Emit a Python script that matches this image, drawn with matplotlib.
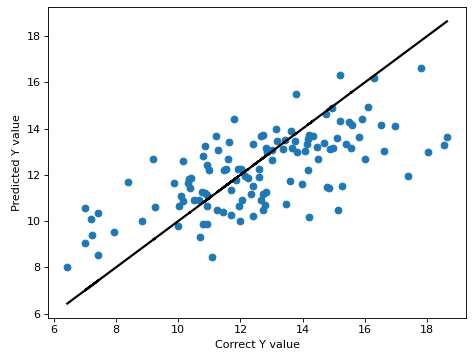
import matplotlib
matplotlib.use("Agg")
import matplotlib.pyplot as plt
import numpy as np

# correct (true) values and model predictions
y_test = [6.44, 7.01, 7.19, 7.44, 7.23, 7.01, 7.41, 7.93, 8.40, 8.83,
          9.26, 9.20, 9.85, 9.99, 10.04, 10.08, 10.14, 10.17, 10.32, 10.38,
          10.35, 10.40, 10.52, 10.66, 10.69, 10.75, 10.86, 10.93, 10.80, 10.92,
          10.93, 11.09, 10.79, 10.93, 11.00, 10.86, 11.21, 11.29, 11.63, 11.80,
          11.61, 11.47, 11.53, 11.93, 11.25, 11.44, 11.69, 11.69, 11.86, 11.96,
          11.98, 12.06, 12.15, 12.25, 12.01, 12.34, 12.39, 12.39, 12.58, 12.60,
          12.39, 12.65, 12.71, 12.73, 12.82, 12.65, 12.79, 12.71, 12.82, 12.86,
          13.00, 13.01, 13.14, 13.17, 13.42, 13.38, 13.46, 13.59, 13.61, 13.65,
          13.81, 13.75, 13.78, 13.99, 14.07, 14.13, 14.18, 14.21, 14.34, 14.16,
          14.20, 14.47, 14.50, 14.69, 14.74, 14.95, 14.79, 14.83, 14.88, 14.98,
          15.10, 15.13, 15.18, 15.21, 15.27, 15.39, 15.49, 15.59, 15.54, 15.79,
          15.90, 15.99, 16.08, 16.29, 16.52, 16.61, 16.97, 17.38, 17.79, 18.01,
          18.55, 18.63]
y_pred = [8.00, 10.57, 10.10, 10.33, 9.40, 9.06, 8.54, 9.52, 11.67, 10.00,
          10.61, 12.67, 11.63, 9.81, 10.66, 11.09, 10.87, 12.58, 11.64, 11.44,
          11.81, 11.87, 10.90, 10.90, 9.30, 11.26, 11.20, 11.12, 9.89, 9.89,
          10.66, 8.44, 12.80, 12.43, 12.19, 13.24, 13.68, 13.08, 13.42, 14.40,
          12.67, 12.22, 12.24, 12.25, 10.47, 10.38, 10.27, 11.33, 11.78, 10.66,
          10.00, 10.93, 11.96, 11.86, 12.25, 11.16, 11.52, 10.22, 12.25, 11.89,
          13.32, 13.68, 13.72, 11.16, 11.24, 10.90, 10.69, 10.47, 13.14, 12.97,
          13.08, 12.62, 13.97, 13.47, 13.52, 13.11, 10.76, 11.72, 13.88, 13.14,
          12.97, 13.47, 15.49, 11.60, 13.04, 13.35, 13.55, 13.72, 13.69, 12.22,
          10.17, 13.19, 12.67, 13.37, 14.63, 14.87, 11.48, 11.42, 13.10, 13.16,
          13.59, 10.50, 16.33, 14.32, 11.52, 13.32, 14.29, 14.15, 13.14, 13.62,
          14.40, 12.67, 14.94, 16.19, 14.15, 13.04, 14.11, 11.97, 16.62, 12.97,
          13.27, 13.65]

fig = plt.figure(figsize=(474 / 80, 363 / 80), dpi=80)
ax = fig.add_axes([0.102, 0.125, 0.881, 0.855])

ax.scatter(y_test, y_pred)
ax.plot(y_test, y_test, color="black", linewidth=2)

ax.set_xlabel("Correct Y value")
ax.set_ylabel("Predicted Y value")

fig.savefig("out.png", dpi=80)
